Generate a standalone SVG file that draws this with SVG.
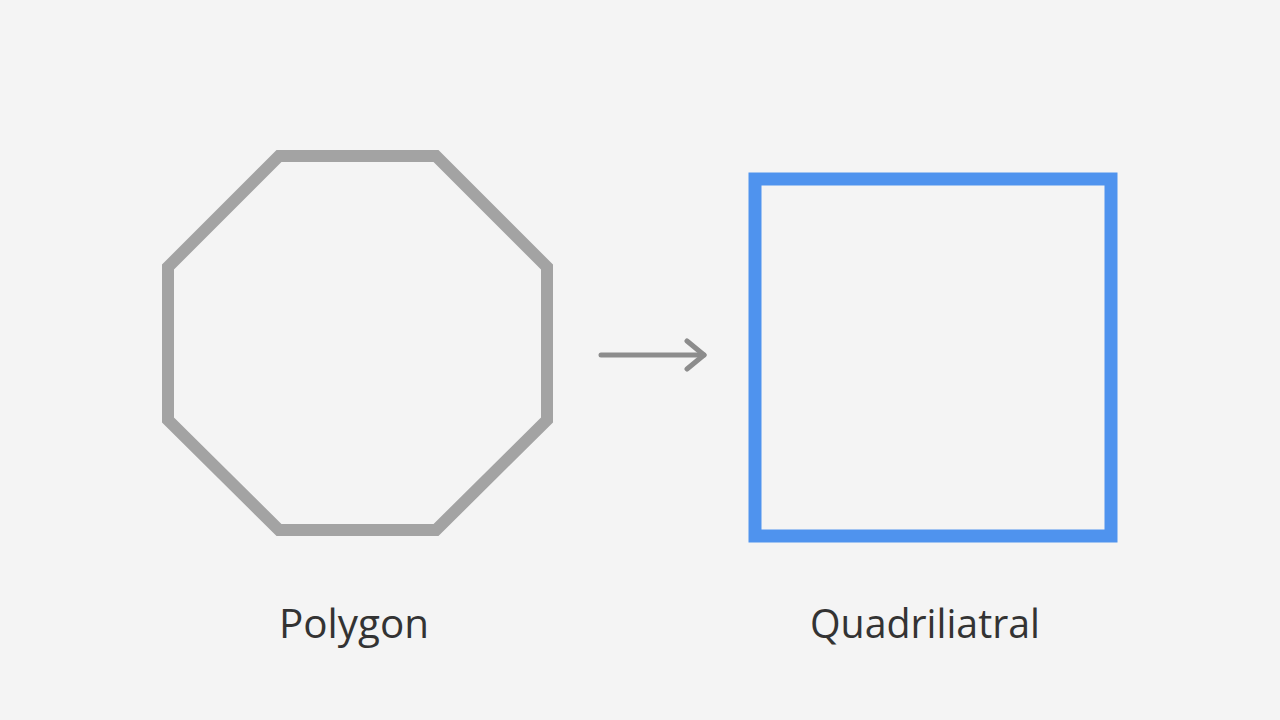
<svg xmlns="http://www.w3.org/2000/svg" width="1280" height="720" viewBox="0 0 1280 720">
<defs>
<style>
.lbl{font-family:"Open Sans","Noto Sans","Liberation Sans",sans-serif;font-size:40px;fill:#333333;text-anchor:middle}
</style>
<marker id="chev" viewBox="0 0 26 36" refX="23" refY="18" markerWidth="26" markerHeight="36" markerUnits="userSpaceOnUse" orient="auto">
<path d="M6,4 L23,18 L6,32" fill="none" stroke="#8c8c8c" stroke-width="5" stroke-linecap="round" stroke-linejoin="round"/>
</marker>
</defs>
<rect width="1280" height="720" fill="#f4f4f4"/>
<g id="polygon">
<polygon points="279,156 436,156 547,267 547,420 436,530 279,530 168,420 168,267" fill="none" stroke="#a3a3a3" stroke-width="12" stroke-linejoin="miter"/>
<text class="lbl" x="354" y="638" textLength="150" lengthAdjust="spacingAndGlyphs">Polygon</text>
</g>
<g id="quadrilateral">
<rect x="755" y="179" width="356" height="357" fill="none" stroke="#4f93ee" stroke-width="13"/>
<text class="lbl" x="925" y="638" textLength="230" lengthAdjust="spacingAndGlyphs">Quadriliatral</text>
</g>
<g id="connectors">
<line x1="601" y1="355" x2="704" y2="355" stroke="#8c8c8c" stroke-width="5" stroke-linecap="round" marker-end="url(#chev)"/>
</g>
</svg>
